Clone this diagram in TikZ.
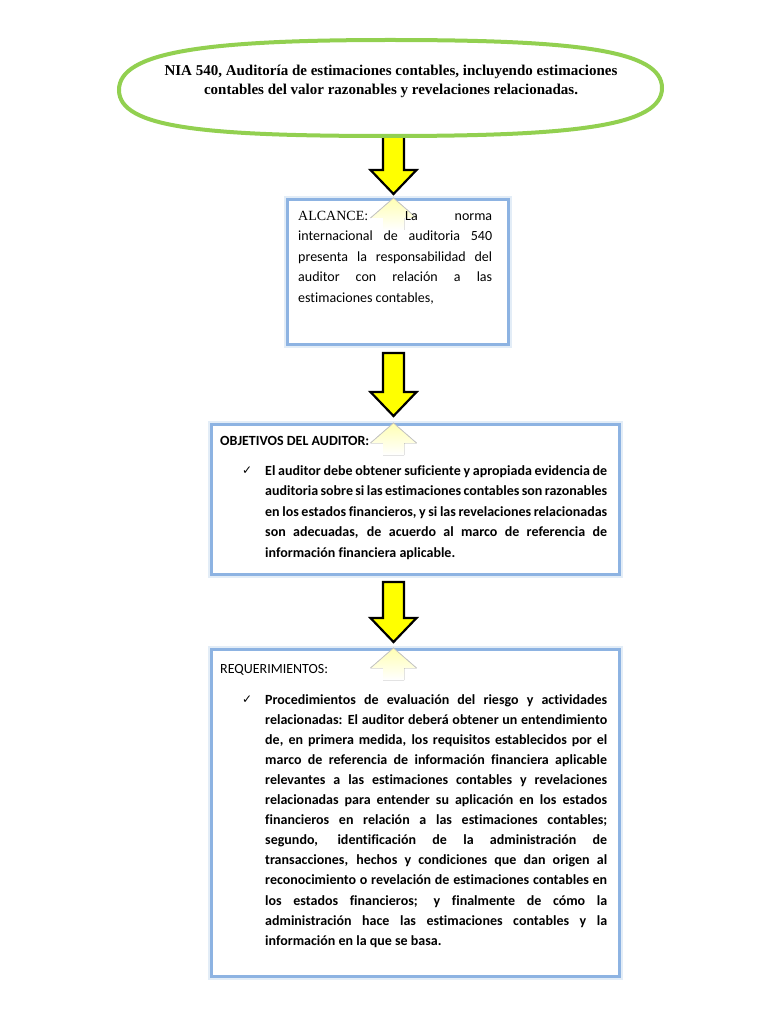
\documentclass[tikz,border=0pt]{standalone}
\usepackage{fontspec}
\setmainfont{Carlito}[Ligatures=NoCommon]
\newfontfamily\serifT{Liberation Serif}
\newfontfamily\symf{DejaVu Sans}
\usetikzlibrary{calc}
\definecolor{titlegreen}{RGB}{146,208,80}
\definecolor{boxblue}{RGB}{141,179,226}
\definecolor{arrowyellow}{RGB}{255,255,0}
\newcommand\blockarrow[2]{%
  \draw[blockarr] let \p1=(#1), \p2=(#2) in
   (\x1-10.5pt,\y1) -- (\x1+10.5pt,\y1) -- (\x1+10.5pt,\y2+24pt) -- (\x1+23pt,\y2+24pt)
   -- (\x1,\y2) -- (\x1-23pt,\y2+24pt) -- (\x1-10.5pt,\y2+24pt) -- cycle;}
\newcommand\arrowreflect[1]{%
  \fill[top color=yellow!30!white, bottom color=white] let \p1=(#1) in
   (\x1,\y1) -- (\x1+23pt,\y1-20pt) -- (\x1+10.5pt,\y1-20pt) -- (\x1+10.5pt,\y1-32pt)
   -- (\x1-10.5pt,\y1-32pt) -- (\x1-10.5pt,\y1-20pt) -- (\x1-23pt,\y1-20pt) -- cycle;
  \draw[gray!45, line width=0.8] let \p1=(#1) in
   (\x1-23pt,\y1-20pt) -- (\x1,\y1) -- (\x1+23pt,\y1-20pt);}
\tikzset{
  boxstyle/.style={draw=boxblue, line width=3, fill=white, inner sep=0,
    preaction={draw=boxblue!40, line width=7, opacity=0.6}},
  blockarr/.style={draw=black, line width=2.2, fill=arrowyellow, line join=miter},
  bodytext/.style={inner sep=0, anchor=north west, align=justify,
    font=\fontsize{14}{20.4}\selectfont},
  headtext/.style={inner sep=0, anchor=base west, font=\fontsize{14}{20.4}\selectfont},
  checkmark/.style={inner sep=0, anchor=base west, font=\symf\fontsize{12}{14}\selectfont}
}
\begin{document}
\begin{tikzpicture}[x=1pt,y=-1pt]
\fill[white] (0,0) rectangle (768,1024);
\useasboundingbox (0,0) rectangle (768,1024);
% boxes
\node[boxstyle, minimum width=221, minimum height=145, anchor=north west] (box2) at (286,198) {};
\node[boxstyle, minimum width=408, minimum height=150, anchor=north west] (box3) at (210,423) {};
\node[boxstyle, minimum width=408, minimum height=327, anchor=north west] (box4) at (210,648) {};
% arrows
\coordinate (a1top) at (393.5,128);
\coordinate (a2top) at (393.5,353);
\coordinate (a3top) at (393.5,582);
\coordinate (a1tip) at ($(a1top |- box2.north)+(0,-4)$);
\coordinate (a2tip) at ($(a2top |- box3.north)+(0,-7)$);
\coordinate (a3tip) at ($(a3top |- box4.north)+(0,-6)$);
\blockarrow{a1top}{a1tip}
\blockarrow{a2top}{a2tip}
\blockarrow{a3top}{a3tip}
\arrowreflect{a1top |- box2.north}
\arrowreflect{a2top |- box3.north}
\arrowreflect{a3top |- box4.north}
% title shape
\node[inner sep=0, minimum width=544, minimum height=97] (title) at (390,88.5) {};
\draw[titlegreen, line width=4, fill=white] (119,90) .. controls (119,52) and (205,40) .. (390,40)
  .. controls (575,40) and (662,50) .. (662,88)
  .. controls (662,126) and (575,136) .. (390,136)
  .. controls (205,136) and (119,128) .. (119,90) -- cycle;
\node[inner sep=0, align=center, font=\serifT\bfseries\fontsize{15}{19}\selectfont] (titletext) at (391,81)
  {NIA 540, Auditoría de estimaciones contables, incluyendo estimaciones\\
   contables del valor razonables y revelaciones relacionadas.};
% box 2 text
\node[bodytext, text width=194] (t2) at (298,211)
  {{\serifT ALCANCE:} La norma\linebreak internacional de auditoria 540\linebreak
   presenta la responsabilidad del\linebreak auditor con relación a las\linebreak
   estimaciones contables,};
% box 3 text
\node[headtext, font=\bfseries\fontsize{14}{20.4}\selectfont] (h3) at (220,445) {OBJETIVOS DEL AUDITOR:};
\node[checkmark] (c3) at (242,474) {✓};
\node[bodytext, text width=342, font=\bfseries\fontsize{14}{20.5}\selectfont] (t3) at (265,465)
  {El auditor debe obtener suficiente y apropiada evidencia de\linebreak
   auditoria sobre si las estimaciones contables son razonables\linebreak
   en los estados financieros, y si las revelaciones relacionadas\linebreak
   son adecuadas, de acuerdo al marco de referencia de\linebreak
   información financiera aplicable.};
% box 4 text
\node[headtext] (h4) at (220,673) {REQUERIMIENTOS:};
\node[checkmark] (c4) at (242,703) {✓};
\node[bodytext, text width=342, font=\bfseries\fontsize{14}{20.1}\selectfont] (t4) at (265,694)
  {Procedimientos de evaluación del riesgo y actividades\linebreak
   relacionadas: El auditor deberá obtener un entendimiento\linebreak
   de, en primera medida, los requisitos establecidos por el\linebreak
   marco de referencia de información financiera aplicable\linebreak
   relevantes a las estimaciones contables y revelaciones\linebreak
   relacionadas para entender su aplicación en los estados\linebreak
   financieros en relación a las estimaciones contables;\linebreak
   segundo, identificación de la administración de\linebreak
   transacciones, hechos y condiciones que dan origen al\linebreak
   reconocimiento o revelación de estimaciones contables en\linebreak
   los estados financieros; y finalmente de cómo la\linebreak
   administración hace las estimaciones contables y la\linebreak
   información en la que se basa.};
\end{tikzpicture}
\end{document}
